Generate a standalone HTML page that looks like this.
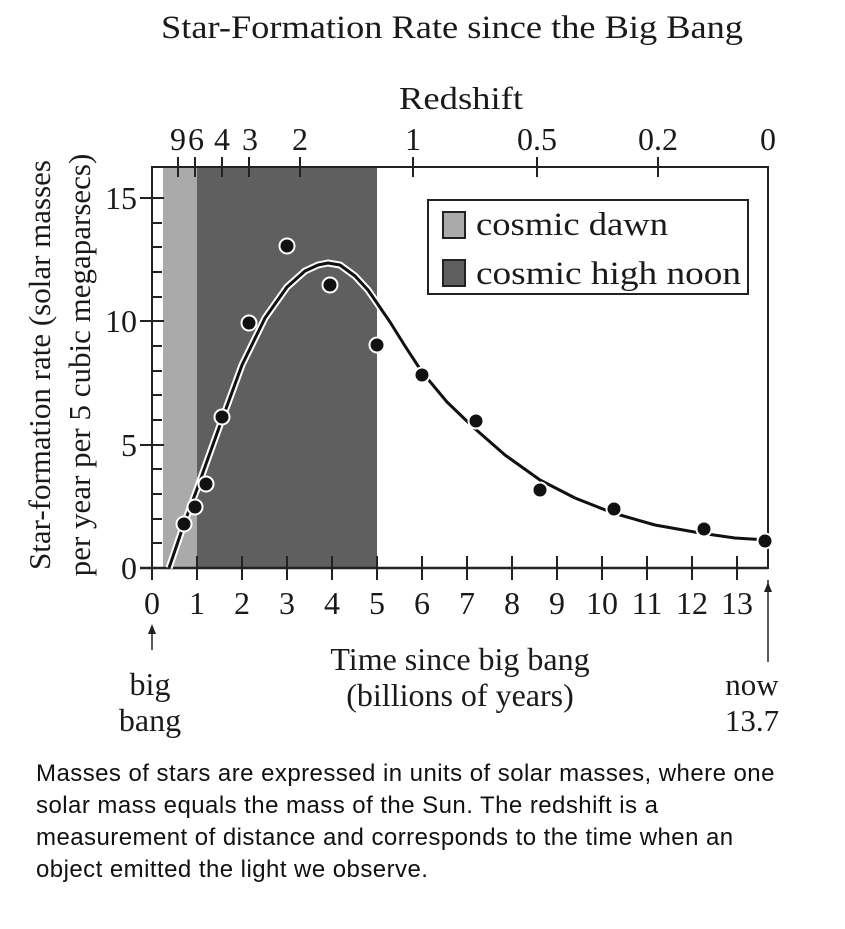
<!DOCTYPE html>
<html><head><meta charset="utf-8"><style>
body{margin:0;background:#fff;width:845px;height:929px;overflow:hidden;position:relative}
.cap{position:absolute;left:36px;top:758px;width:810px;font-family:"Liberation Sans",sans-serif;font-size:24px;letter-spacing:0.45px;line-height:32px;color:#111;white-space:nowrap}
</style></head><body>
<svg width="845" height="929" style="position:absolute;left:0;top:0" font-family="Liberation Serif,serif" fill="#1a1a1a">
<text x="161" y="38" font-size="33" textLength="582" lengthAdjust="spacingAndGlyphs">Star-Formation Rate since the Big Bang</text>
<text x="399" y="109" font-size="32" textLength="124" lengthAdjust="spacingAndGlyphs">Redshift</text>
<rect x="163" y="167" width="34" height="401" fill="#aaa"/>
<rect x="197" y="167" width="180" height="401" fill="#5f5f5f"/>
<rect x="152" y="167" width="616" height="401" fill="none" stroke="#222" stroke-width="2"/>
<line x1="140" y1="568" x2="768" y2="568" stroke="#222" stroke-width="2.5"/>
<g stroke="#222" stroke-width="2">
<line x1="140" y1="198" x2="164" y2="198"/><line x1="140" y1="321" x2="164" y2="321"/><line x1="140" y1="445" x2="164" y2="445"/>
<line x1="152" y1="223" x2="162" y2="223"/><line x1="152" y1="247" x2="162" y2="247"/><line x1="152" y1="272" x2="162" y2="272"/><line x1="152" y1="297" x2="162" y2="297"/>
<line x1="152" y1="346" x2="162" y2="346"/><line x1="152" y1="371" x2="162" y2="371"/><line x1="152" y1="395" x2="162" y2="395"/><line x1="152" y1="420" x2="162" y2="420"/>
<line x1="152" y1="469" x2="162" y2="469"/><line x1="152" y1="494" x2="162" y2="494"/><line x1="152" y1="519" x2="162" y2="519"/><line x1="152" y1="543" x2="162" y2="543"/>
<line x1="178" y1="157" x2="178" y2="177"/><line x1="195" y1="157" x2="195" y2="177"/><line x1="222" y1="157" x2="222" y2="177"/><line x1="249" y1="157" x2="249" y2="177"/><line x1="300" y1="157" x2="300" y2="177"/><line x1="413" y1="157" x2="413" y2="177"/><line x1="537" y1="157" x2="537" y2="177"/><line x1="658" y1="157" x2="658" y2="177"/>
<line x1="197" y1="556" x2="197" y2="580"/><line x1="242" y1="556" x2="242" y2="580"/><line x1="287" y1="556" x2="287" y2="580"/><line x1="332" y1="556" x2="332" y2="580"/><line x1="377" y1="556" x2="377" y2="580"/><line x1="422" y1="556" x2="422" y2="580"/><line x1="467" y1="556" x2="467" y2="580"/><line x1="512" y1="556" x2="512" y2="580"/><line x1="557" y1="556" x2="557" y2="580"/><line x1="602" y1="556" x2="602" y2="580"/><line x1="647" y1="556" x2="647" y2="580"/><line x1="692" y1="556" x2="692" y2="580"/><line x1="737" y1="556" x2="737" y2="580"/>
<line x1="152" y1="568" x2="152" y2="580"/>
<line x1="152" y1="632" x2="152" y2="650" stroke-width="1.5"/><line x1="768" y1="580" x2="768" y2="662" stroke-width="1.5"/>
</g>
<path d="M148,634 L152,624 L156,634Z M764,592 L768,582 L772,592Z" fill="#222"/>
<g font-size="32" text-anchor="middle">
<text x="178" y="150">9</text><text x="196" y="150">6</text><text x="222" y="150">4</text><text x="250" y="150">3</text><text x="300" y="150">2</text><text x="413" y="150">1</text><text x="537" y="150">0.5</text><text x="658" y="150">0.2</text><text x="768" y="150">0</text>
<text x="152" y="614">0</text><text x="197" y="614">1</text><text x="242" y="614">2</text><text x="287" y="614">3</text><text x="332" y="614">4</text><text x="377" y="614">5</text><text x="422" y="614">6</text><text x="467" y="614">7</text><text x="512" y="614">8</text><text x="557" y="614">9</text><text x="602" y="614">10</text><text x="647" y="614">11</text><text x="692" y="614">12</text><text x="737" y="614">13</text>
</g>
<g font-size="32" text-anchor="end"><text x="137" y="209">15</text><text x="137" y="332">10</text><text x="137" y="456">5</text><text x="137" y="579">0</text></g>
<text x="40" y="365" font-size="31" text-anchor="middle" transform="rotate(-90 40 365)" dy="10">Star-formation rate (solar masses</text>
<text x="80" y="365" font-size="31" text-anchor="middle" transform="rotate(-90 80 365)" dy="10">per year per 5 cubic megaparsecs)</text>
<text x="460" y="670" font-size="32" text-anchor="middle">Time since big bang</text>
<text x="460" y="706" font-size="32" text-anchor="middle">(billions of years)</text>
<text x="150" y="695" font-size="32" text-anchor="middle">big</text><text x="150" y="731" font-size="32" text-anchor="middle">bang</text>
<text x="752" y="695" font-size="31" text-anchor="middle">now</text><text x="752" y="731" font-size="31" text-anchor="middle">13.7</text>
<rect x="428" y="200" width="320" height="94" fill="#fff" stroke="#222" stroke-width="2"/>
<rect x="443" y="212" width="22" height="26" fill="#aaa" stroke="#222" stroke-width="2"/>
<rect x="443" y="260" width="22" height="26" fill="#5f5f5f" stroke="#222" stroke-width="2"/>
<text x="476" y="235" font-size="33" textLength="192" lengthAdjust="spacingAndGlyphs">cosmic dawn</text>
<text x="476" y="284" font-size="33" textLength="265" lengthAdjust="spacingAndGlyphs">cosmic high noon</text>
<g fill="none" stroke-linejoin="round">
<polyline stroke="#fff" stroke-width="7" points="169,568 184,524 197,489 220,425 242,365 265,318 287,287 305,271 318,265 328,263 340,265 355,276 368,290 377,303 390,322 405,346 422,372 447,402 473,427 505,455 540,480 575,498 613,513 655,525 700,533 735,538 767,540"/>
<polyline stroke="#111" stroke-width="3" points="169,568 184,524 197,489 220,425 242,365 265,318 287,287 305,271 318,265 328,263 340,265 355,276 368,290 377,303 390,322 405,346 422,372 447,402 473,427 505,455 540,480 575,498 613,513 655,525 700,533 735,538 767,540"/>
</g>
<g fill="#111" stroke="#fff" stroke-width="2">
<circle cx="184" cy="524" r="7.5"/><circle cx="195" cy="507" r="7.5"/><circle cx="206" cy="484" r="7.5"/><circle cx="222" cy="417" r="7.5"/><circle cx="249" cy="323" r="7.5"/><circle cx="287" cy="246" r="7.5"/><circle cx="330" cy="285" r="7.5"/><circle cx="377" cy="345" r="7.5"/><circle cx="422" cy="375" r="7.5"/><circle cx="476" cy="421" r="7.5"/><circle cx="540" cy="490" r="7.5"/><circle cx="614" cy="509" r="7.5"/><circle cx="704" cy="529" r="7.5"/><circle cx="765" cy="541" r="7.5"/>
</g>
</svg>
<div class="cap">Masses of stars are expressed in units of solar masses, where one<br>solar mass equals the mass of the Sun. The redshift is a<br>measurement of distance and corresponds to the time when an<br>object emitted the light we observe.</div>
</body></html>
